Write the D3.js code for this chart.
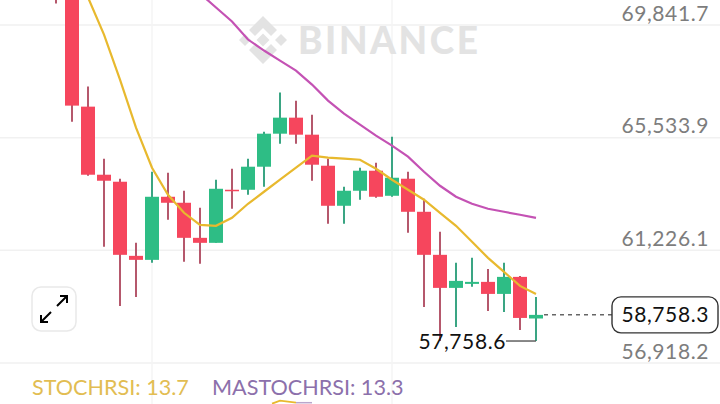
<!DOCTYPE html>
<html>
<head>
<meta charset="utf-8">
<script src="https://cdn.jsdelivr.net/npm/d3@7"></script>
<style>
  html, body { margin: 0; padding: 0; background: #fff; }
  svg { display: block; }
  text { font-family: Lato, "Open Sans", sans-serif; }
</style>
</head>
<body>
<svg id="chart" width="720" height="404"></svg>
<script>
const W = 720, H = 404;

// candle slots, oldest first (x axis is one slot per candle)
const slots = d3.range(0, 31);
const opens  = [71500, 71500, 66720, 64117, 63849, 61015, 60862, 63274, 63045, 61704, 61513, 63542, 63542, 64423, 65686, 66299, 65648, 64461, 62930, 63504, 64270, 63312, 63964, 62700, 61054, 59790, 59943, 60020, 59560, 60211, 58620];
const closes = [71000, 66759, 64117, 63887, 61054, 60862, 63274, 63045, 61704, 61513, 63580, 63490, 64423, 65686, 66299, 65648, 64500, 62930, 63504, 64270, 63274, 64002, 62700, 61054, 59790, 60058, 60020, 59560, 60211, 58641, 58758];
const highs  = [71500, 71500, 67486, 64729, 63964, 61513, 64231, 64193, 63504, 62853, 63925, 64346, 64729, 65763, 67257, 66950, 66414, 64729, 63657, 64385, 64576, 65572, 64231, 63198, 61934, 60747, 60938, 60517, 60747, 60249, 59445];
const lows   = [70664, 66146, 64078, 61360, 59101, 59445, 60747, 62394, 60786, 60709, 61513, 62815, 63351, 63657, 65304, 65304, 63887, 62240, 62240, 63160, 63236, 63274, 61896, 59062, 57760, 58297, 59829, 58909, 58871, 58182, 57760];

const stochMa = [null, null, 70895, 69477, 67754, 65916, 64385, 63351, 62662, 62202, 62164, 62470, 63006, 63466, 63925, 64385, 64844, 64768, 64729, 64691, 64346, 63925, 63542, 63160, 62662, 62164, 61551, 60938, 60403, 59867, 59560];
const longMa  = [null, null, null, null, null, null, null, null, null, 71047, 70511, 69975, 69286, 68865, 68482, 68099, 67563, 66950, 66452, 66031, 65610, 65227, 64806, 64231, 63695, 63274, 63006, 62815, 62700, 62585, 62470];

// the top edge of the lower pane, only a few points of it are in frame
const paneSlots = [13.5, 14, 15];
const paneStoch = [97, 100, 98];
const paneMaSlots = [15, 16];
const paneMa = [98, 98];

const priceTicks = [69841.7, 65533.9, 61226.1, 56918.2];
const verticalGridSlots = [6, 21];
const lastPrice = 58758.3;
const lowLabel = 57758.6;
const lowSlot = 30;

const stochTitle = 'STOCHRSI: 13.7';
const maTitle = 'MASTOCHRSI: 13.3';

const red = '#f6465d', green = '#2ebd85';
const fmt = d3.format(',.1f');

const svg = d3.select('#chart');

// one slot is 16px, the latest candle sits at x=536
const x = d3.scaleLinear().domain([0, 30]).range([56, 536]);
const y = d3.scaleLinear().domain([56918.2, 69841.7]).range([363, 25]);
const paneY = d3.scaleLinear().domain([0, 100]).range([500.7, 400.7]);

// grid
svg.append('g').selectAll('line').data(priceTicks).join('line')
  .attr('x1', 0).attr('x2', W)
  .attr('y1', d => y(d)).attr('y2', d => y(d))
  .attr('stroke', '#f1f1f1').attr('stroke-width', 1.5);
svg.append('g').selectAll('line').data(verticalGridSlots).join('line')
  .attr('x1', d => x(d)).attr('x2', d => x(d))
  .attr('y1', 0).attr('y2', H)
  .attr('stroke', '#f4f4f4').attr('stroke-width', 1.5);

// watermark
const mark = svg.append('g').attr('transform', 'translate(263,40)').attr('fill', '#e3e3e3');
mark.append('path').attr('d', 'M0,-24L14,-10L8,-4L0,-12L-8,-4L-14,-10Z');
mark.append('path').attr('d', 'M0,24L14,10L8,4L0,12L-8,4L-14,10Z');
mark.append('path').attr('d', 'M0,-6.5L6.5,0L0,6.5L-6.5,0Z');
mark.append('path').attr('d', 'M-18,-6L-12,0L-18,6L-24,0Z');
mark.append('path').attr('d', 'M18,-6L24,0L18,6L12,0Z');
mark.append('text').attr('x', 35).attr('y', 13.5)
  .attr('font-size', 37).attr('font-weight', 900)
  .attr('textLength', 180).attr('lengthAdjust', 'spacing')
  .text('BINANCE');

// candles
const candles = svg.append('g').selectAll('g').data(slots).join('g');
const isUp = i => closes[i] >= opens[i];
candles.append('line')
  .attr('x1', i => x(i)).attr('x2', i => x(i))
  .attr('y1', i => y(highs[i])).attr('y2', i => y(lows[i]))
  .attr('stroke', i => isUp(i) ? '#3aa583' : '#b5586c')
  .attr('stroke-width', 2);
candles.append('rect')
  .attr('x', i => x(i) - 7).attr('width', 14)
  .attr('y', i => y(Math.max(opens[i], closes[i])))
  .attr('height', i => Math.max(1.5, Math.abs(y(opens[i]) - y(closes[i]))))
  .attr('fill', i => isUp(i) ? green : red);

// moving averages
const line = d3.line()
  .defined(d => d !== null)
  .x((d, i) => x(i))
  .y(d => y(d));
svg.append('path').attr('d', line(longMa))
  .attr('fill', 'none').attr('stroke', '#c452b4').attr('stroke-width', 2.2);
svg.append('path').attr('d', line(stochMa))
  .attr('fill', 'none').attr('stroke', '#e8b92e').attr('stroke-width', 2.2);

// lower pane lines
const paneLine = slotList => d3.line().x((d, i) => x(slotList[i])).y(d => paneY(d));
svg.append('path').attr('d', paneLine(paneMaSlots)(paneMa))
  .attr('fill', 'none').attr('stroke', '#b9a6cc').attr('stroke-width', 1.5);
svg.append('path').attr('d', paneLine(paneSlots)(paneStoch))
  .attr('fill', 'none').attr('stroke', '#e8b92e').attr('stroke-width', 1.8);

// last price marker
const lastY = y(lastPrice);
svg.append('line')
  .attr('x1', x(lowSlot) + 8).attr('x2', 612)
  .attr('y1', lastY).attr('y2', lastY)
  .attr('stroke', '#666').attr('stroke-width', 1.5).attr('stroke-dasharray', '4 4');
svg.append('rect')
  .attr('x', 612).attr('y', lastY - 18).attr('width', 106).attr('height', 36).attr('rx', 9)
  .attr('fill', '#fff').attr('stroke', '#333').attr('stroke-width', 1.4);
svg.append('text').attr('x', 709).attr('y', lastY + 7.5)
  .attr('text-anchor', 'end').attr('font-size', 21).attr('letter-spacing', 0.6).attr('fill', '#111')
  .text(fmt(lastPrice));

// lowest price label
svg.append('line')
  .attr('x1', 506).attr('x2', x(lowSlot))
  .attr('y1', y(lowLabel)).attr('y2', y(lowLabel))
  .attr('stroke', '#555').attr('stroke-width', 1.4);
svg.append('text').attr('x', 506).attr('y', y(lowLabel) + 7.5)
  .attr('text-anchor', 'end').attr('font-size', 21).attr('letter-spacing', 0.6).attr('fill', '#111')
  .text(fmt(lowLabel));

// price axis labels
svg.append('g').selectAll('text').data(priceTicks).join('text')
  .attr('x', 709).attr('y', d => y(d) - 4.5)
  .attr('text-anchor', 'end').attr('font-size', 21).attr('letter-spacing', 0.6).attr('fill', '#7d7d7d')
  .text(d => fmt(d));

// expand button
const btn = svg.append('g').attr('transform', 'translate(54,309)');
btn.append('rect').attr('x', -22).attr('y', -22).attr('width', 44).attr('height', 44).attr('rx', 9)
  .attr('fill', '#fff').attr('stroke', '#e9e9e9').attr('stroke-width', 1.5);
btn.append('path')
  .attr('d', 'M3,-3L13,-13M6,-13H13V-6M-3,3L-13,13M-13,6V13H-6')
  .attr('fill', 'none').attr('stroke', '#000').attr('stroke-width', 2);

// indicator legend
svg.append('text').attr('x', 32).attr('y', 395).attr('font-size', 21.6).attr('fill', '#e2bd52').text(stochTitle);
svg.append('text').attr('x', 212).attr('y', 395).attr('font-size', 21.6).attr('fill', '#8c70ab').text(maTitle);
</script>
</body>
</html>
